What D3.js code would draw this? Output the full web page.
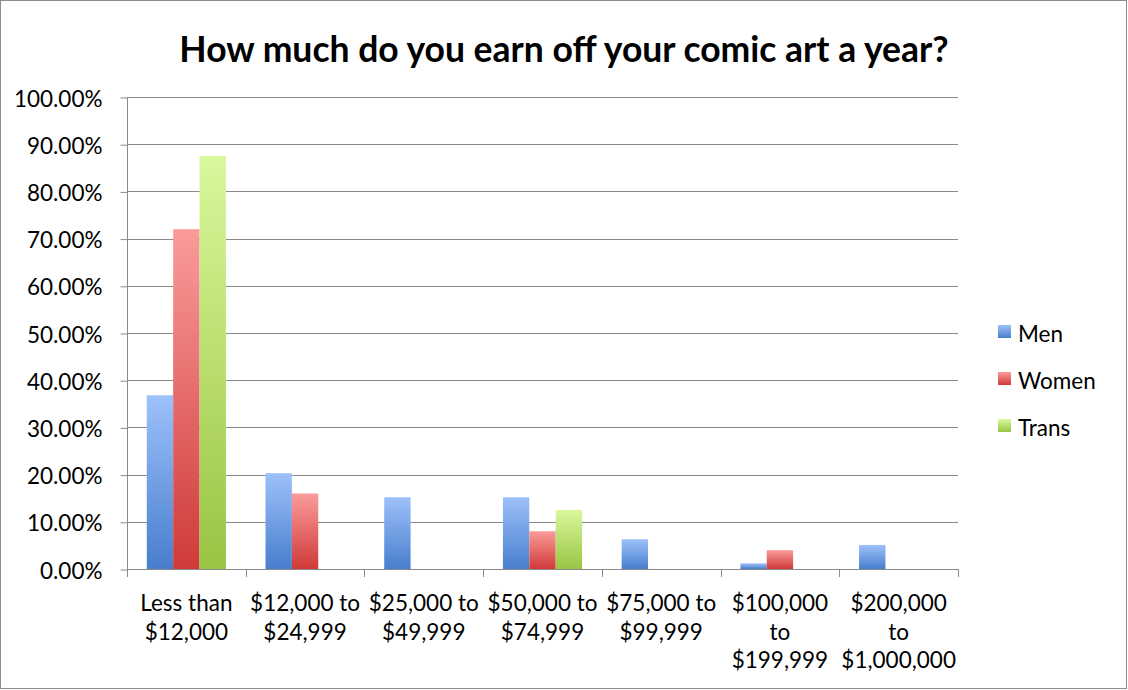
<!DOCTYPE html>
<html><head><meta charset="utf-8">
<script src="https://cdn.jsdelivr.net/npm/d3@7"></script>
<style>body{margin:0;background:#fff;}svg{display:block;font-family:Lato, "Open Sans", sans-serif;}</style>
</head><body>
<svg id="c" width="1128" height="690"></svg>
<script>
const categories = [["Less than","$12,000"],["$12,000 to","$24,999"],["$25,000 to","$49,999"],["$50,000 to","$74,999"],["$75,000 to","$99,999"],["$100,000","to","$199,999"],["$200,000","to","$1,000,000"]];
const seriesNames = ["Men","Women","Trans"];
const men = [36.8, 20.3, 15.2, 15.2, 6.3, 1.2, 5.1];
const women = [72.0, 16.0, 0, 8.0, 0, 4.0, 0];
const trans = [87.5, 0, 0, 12.5, 0, 0, 0];
const yTicks = [0,10,20,30,40,50,60,70,80,90,100];
const colors = {Men:["#9dc1fb","#487ecd"],Women:["#fa9c9b","#cf3a38"],Trans:["#d9f89c","#9ac443"]};

const svg = d3.select("#c");
svg.append("rect").attr("x",0.5).attr("y",0.5).attr("width",1126).attr("height",688).attr("fill","#fff").attr("stroke","#8c8c8c");

const defs = svg.append("defs");
seriesNames.forEach(s=>{
  const g = defs.append("linearGradient").attr("id","g"+s).attr("x1",0).attr("y1",0).attr("x2",0).attr("y2",1);
  g.append("stop").attr("offset","0%").attr("stop-color",colors[s][0]);
  g.append("stop").attr("offset","100%").attr("stop-color",colors[s][1]);
});

const L=127,R=958,T=97,B=569;
const x = d3.scaleBand().domain(d3.range(categories.length)).range([L,R]);
// gap width 150%: each category = 4.5 bar widths
const bw = x.bandwidth()/4.5;
const y = d3.scaleLinear().domain([0,100]).range([B,T]);

// gridlines
svg.append("g").selectAll("line").data(yTicks.filter(d=>d>0)).join("line")
  .attr("x1",L).attr("x2",R).attr("y1",d=>Math.round(y(d))+0.5).attr("y2",d=>Math.round(y(d))+0.5)
  .attr("stroke","#8a8a8a").attr("stroke-width",1);

// y axis
const ya = svg.append("g").attr("transform",`translate(${L+0.5},0)`)
  .call(d3.axisLeft(y).tickValues(yTicks).tickFormat(d=>d.toFixed(2)+"%").tickSize(7).tickPadding(18));
ya.select(".domain").attr("stroke","#8a8a8a").attr("d",`M0,${T}V${B}`);
ya.selectAll(".tick line").attr("stroke","#8a8a8a").attr("transform","translate(0,0.5)");
ya.selectAll(".tick text").attr("font-size",22.5).attr("fill","#000").attr("font-family","Lato, sans-serif").attr("dy","0.4em");

// bars
const data = seriesNames.map((s,i)=>({s, vals:[men,women,trans][i]}));
const bars = svg.append("g");
data.forEach((sd,si)=>{
  bars.selectAll(null).data(sd.vals.map((v,ci)=>({v,ci}))).join("rect")
    .filter(d=>d.v>0)
    .attr("x",d=>x(d.ci)+0.75*bw+si*bw)
    .attr("width",bw)
    .attr("y",d=>y(d.v))
    .attr("height",d=>B-y(d.v))
    .attr("fill",`url(#g${sd.s})`);
});

// x axis
svg.append("line").attr("x1",L).attr("x2",R+0.5).attr("y1",B+0.5).attr("y2",B+0.5).attr("stroke","#8a8a8a");
svg.append("g").selectAll("line").data(d3.range(categories.length+1)).join("line")
  .attr("x1",i=>Math.round(L+i*x.step())+0.5).attr("x2",i=>Math.round(L+i*x.step())+0.5)
  .attr("y1",B).attr("y2",B+8).attr("stroke","#8a8a8a");
const xl = svg.append("g").selectAll("text").data(categories).join("text")
  .attr("x",(d,i)=>x(i)+x.bandwidth()/2).attr("y",611)
  .attr("text-anchor","middle").attr("font-size",22.5).attr("fill","#000");
xl.each(function(d){
  const t=d3.select(this);
  d.forEach((line,k)=>t.append("tspan").attr("x",t.attr("x")).attr("dy",k===0?0:28.5).text(line));
});

// title
svg.append("text").attr("x",564).attr("y",62).attr("text-anchor","middle")
  .attr("font-size",35.5).attr("font-weight","bold").attr("fill","#000")
  .text("How much do you earn off your comic art a year?");

// legend
const lg = svg.append("g");
seriesNames.forEach((s,i)=>{
  const yy = 342 + i*47;
  lg.append("rect").attr("x",998).attr("y",yy-17).attr("width",13).attr("height",13).attr("fill",`url(#g${s})`);
  lg.append("text").attr("x",1018).attr("y",yy).attr("font-size",22.5).attr("fill","#000").text(s);
});
</script>
</body></html>
